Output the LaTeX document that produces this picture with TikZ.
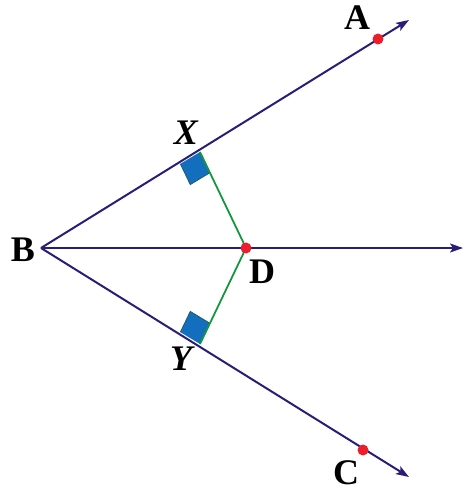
\documentclass[tikz,border=0pt]{standalone}
\usepackage{fontspec}
\setmainfont{Liberation Serif}
\usetikzlibrary{arrows.meta,calc}
\definecolor{navy}{RGB}{40,30,120}
\definecolor{segg}{RGB}{20,150,60}
\definecolor{dotred}{RGB}{235,30,45}
\definecolor{sqblue}{RGB}{20,110,190}
\tikzset{
  ray/.style={draw=navy,line width=2pt,-{Stealth[length=13pt,width=9pt,inset=3pt]}},
  seg/.style={draw=segg,line width=1.8pt},
  dot/.style={circle,fill=dotred,inner sep=0pt,minimum size=11pt},
  lab/.style={font=\fontsize{36}{36}\selectfont\bfseries,inner sep=0pt},
  ilab/.style={font=\fontsize{36}{36}\selectfont\bfseries\itshape,inner sep=0pt},
}
\begin{document}
\begin{tikzpicture}[x=1pt,y=-1pt]
\useasboundingbox (0,0) rectangle (474,494);
\coordinate (B) at (41,248);
\coordinate (D) at (246,248);
\coordinate (A) at (378,39);
\coordinate (C) at (363,450);
\coordinate (tA) at (409,20);
\coordinate (tC) at (409,477);
\coordinate (tD) at (463,248);
\coordinate (X) at (200,152);
\coordinate (Y) at (200,344);
% right-angle squares
\coordinate (X1) at ($(X)!23pt!(B)$);
\coordinate (X2) at ($(X)!23pt!(D)$);
\coordinate (Y1) at ($(Y)!23pt!(B)$);
\coordinate (Y2) at ($(Y)!23pt!(D)$);
\fill[sqblue] (X) -- (X1) -- ($(X1)+(X2)-(X)$) -- (X2) -- cycle;
\fill[sqblue] (Y) -- (Y1) -- ($(Y1)+(Y2)-(Y)$) -- (Y2) -- cycle;
\draw[segg!50!navy,line width=0.7pt] (X1) -- ($(X1)+(X2)-(X)$) -- (X2);
\draw[segg!50!navy,line width=0.7pt] (Y1) -- ($(Y1)+(Y2)-(Y)$) -- (Y2);
% segments
\draw[seg] (X) -- (D);
\draw[seg] (Y) -- (D);
% rays
\draw[ray] (B) -- (tA);
\draw[ray] (B) -- (tC);
\draw[ray] (B) -- (tD);
% dots
\node[dot] (nA) at (A) {};
\node[dot] (nC) at (C) {};
\node[dot] (nD) at (D) {};
% labels
\node[lab] (lA) at (357,18) {A};
\node[lab] (lB) at (23,250) {B};
\node[lab] (lC) at (346,473) {C};
\node[lab] (lD) at (262,272) {D};
\node[ilab] (lX) at (186,133) {X};
\node[ilab] (lY) at (181,359) {Y};
\end{tikzpicture}
\end{document}
